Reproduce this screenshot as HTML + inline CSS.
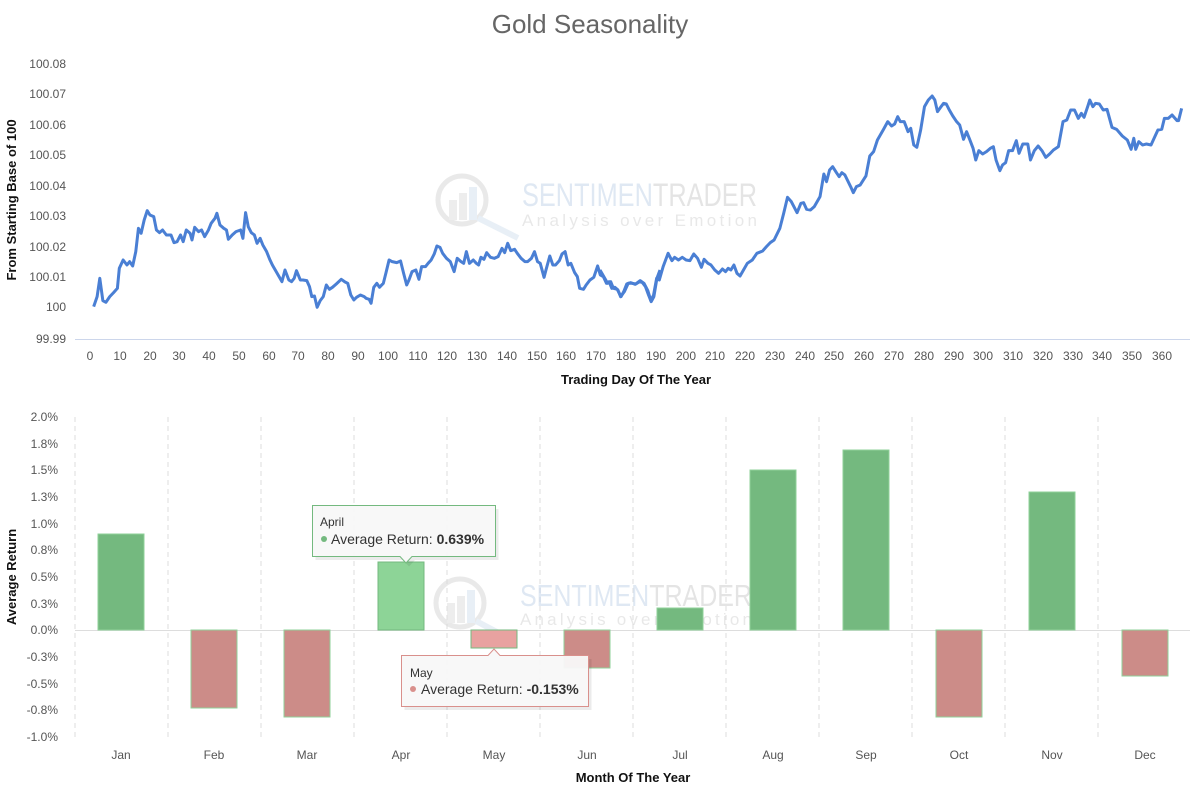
<!DOCTYPE html>
<html><head><meta charset="utf-8"><style>
html,body{margin:0;padding:0;background:#fff;}
svg{display:block;font-family:"Liberation Sans",sans-serif;}
</style></head><body>
<svg width="1200" height="789" viewBox="0 0 1200 789" xmlns="http://www.w3.org/2000/svg">
<rect width="1200" height="789" fill="#fff"/>
<text x="590" y="33" text-anchor="middle" font-size="26" fill="#666">Gold Seasonality</text>

<!-- TOP CHART -->
<g font-size="12" fill="#555" text-anchor="end">
<text x="66" y="68">100.08</text><text x="66" y="98">100.07</text><text x="66" y="129">100.06</text>
<text x="66" y="159">100.05</text><text x="66" y="190">100.04</text><text x="66" y="220">100.03</text>
<text x="66" y="251">100.02</text><text x="66" y="281">100.01</text><text x="66" y="311">100</text>
<text x="66" y="343">99.99</text>
</g>
<text transform="translate(16,200) rotate(-90)" text-anchor="middle" font-size="13" font-weight="bold" fill="#111">From Starting Base of 100</text>
<line x1="75" y1="339.5" x2="1190" y2="339.5" stroke="#ccd6eb" stroke-width="1"/>
<g font-size="12" fill="#555" text-anchor="middle">
<text x="90" y="360">0</text><text x="120" y="360">10</text><text x="150" y="360">20</text><text x="179" y="360">30</text>
<text x="209" y="360">40</text><text x="239" y="360">50</text><text x="269" y="360">60</text><text x="298" y="360">70</text>
<text x="328" y="360">80</text><text x="358" y="360">90</text><text x="388" y="360">100</text><text x="418" y="360">110</text>
<text x="447" y="360">120</text><text x="477" y="360">130</text><text x="507" y="360">140</text><text x="537" y="360">150</text>
<text x="566" y="360">160</text><text x="596" y="360">170</text><text x="626" y="360">180</text><text x="656" y="360">190</text>
<text x="686" y="360">200</text><text x="715" y="360">210</text><text x="745" y="360">220</text><text x="775" y="360">230</text>
<text x="805" y="360">240</text><text x="834" y="360">250</text><text x="864" y="360">260</text><text x="894" y="360">270</text>
<text x="924" y="360">280</text><text x="954" y="360">290</text><text x="983" y="360">300</text><text x="1013" y="360">310</text>
<text x="1043" y="360">320</text><text x="1073" y="360">330</text><text x="1102" y="360">340</text><text x="1132" y="360">350</text>
<text x="1162" y="360">360</text>
</g>
<text x="636" y="384" text-anchor="middle" font-size="13" font-weight="bold" fill="#111">Trading Day Of The Year</text>

<!-- watermark top -->
<g opacity="0.55">
<circle cx="462" cy="200" r="24" fill="none" stroke="#d8d8d8" stroke-width="5"/>
<rect x="449" y="200" width="8" height="20" fill="#e0e0e0"/><rect x="459" y="193" width="8" height="27" fill="#e0e0e0"/><rect x="469" y="187" width="8" height="33" fill="#d6e2ef"/>
<line x1="478" y1="218" x2="518" y2="238" stroke="#d6e2ef" stroke-width="6"/>
<text x="522" y="206" font-size="32" fill="#c5d6ea" textLength="235" lengthAdjust="spacingAndGlyphs">SENTIMEN<tspan fill="#cfcfcf">TRADER</tspan></text>
<text x="522" y="226" font-size="17" fill="#d6d6d6" textLength="235" lengthAdjust="spacing">Analysis over Emotion</text>
</g>

<polyline fill="none" stroke="#4a7fd4" stroke-width="3" stroke-linejoin="round" vector-effect="non-scaling-stroke" transform="translate(60,50) scale(0.38265,0.3333)"
points="88,770 97,740 104,685 112,752 120,757 130,740 140,728 150,715 155,655 165,630 175,645 182,635 190,648 198,605 205,535 212,550 220,510 228,482 235,495 245,500 252,540 260,548 268,540 278,555 290,555 298,578 306,575 315,555 322,575 330,540 340,550 345,570 352,532 362,545 370,540 378,560 388,540 395,520 405,505 410,490 418,525 428,535 435,540 440,568 450,555 460,545 472,540 478,565 485,488 492,530 500,548 508,555 515,580 523,565 530,585 540,605 548,628 555,645 565,665 580,695 588,660 598,690 605,695 612,685 618,662 628,690 635,690 645,692 652,710 658,740 665,738 672,772 680,752 688,740 696,705 704,718 712,712 722,702 735,688 745,696 752,700 760,735 768,750 775,742 785,735 795,740 800,745 808,748 813,760 820,712 828,700 835,712 845,700 852,668 860,630 868,635 880,638 890,633 898,670 906,705 912,690 920,665 930,660 938,688 945,650 955,650 962,640 970,630 978,612 985,588 993,592 1000,610 1010,625 1020,635 1030,665 1038,625 1048,635 1055,640 1062,605 1070,640 1080,630 1088,640 1094,645 1100,622 1108,628 1115,608 1125,622 1135,625 1145,620 1155,595 1162,608 1170,580 1178,602 1188,598 1195,610 1205,625 1215,635 1222,635 1232,625 1240,605 1248,635 1255,640 1265,682 1270,660 1280,618 1288,645 1295,645 1305,632 1312,612 1320,605 1328,645 1335,640 1345,668 1352,680 1358,715 1368,718 1375,705 1385,690 1395,682 1405,648 1412,675 1420,680 1428,700 1435,695 1442,715 1450,712 1458,720 1465,740 1475,725 1485,700 1495,700 1505,702 1515,695 1522,698 1530,710 1538,735 1545,755 1552,740 1560,685 1568,660"/>
<polyline fill="none" stroke="#4a7fd4" stroke-width="3" stroke-linejoin="round" vector-effect="non-scaling-stroke" transform="translate(600,50) scale(0.38265,0.3333)"
points="0,660 10,680 20,700 28,695 35,715 45,718 55,740 62,725 70,702 80,698 92,703 105,692 115,700 125,722 133,752 140,735 148,685 155,690 165,650 178,610 188,632 195,622 205,630 215,622 225,630 235,632 245,612 255,625 265,652 272,628 282,640 290,645 300,660 310,670 320,657 328,665 335,655 342,660 350,645 358,670 366,678 375,660 385,640 398,630 410,610 425,603 435,590 445,578 455,570 470,535 480,490 490,442 500,455 515,488 525,460 532,458 540,478 550,480 560,470 575,440 585,372 592,395 600,360 608,350 618,368 625,380 632,368 640,375 655,410 662,428 670,410 680,405 695,378 705,318 715,305 725,270 740,240 752,215 762,228 770,222 778,200 785,215 795,215 805,245 812,235 820,285 828,292 838,240 848,170 858,150 868,138 875,150 882,185 890,172 898,160 905,162 912,178 922,198 932,215 940,225 950,268 958,245 966,268 975,295 982,330 990,302 1000,312 1010,305 1020,295 1028,290 1035,330 1045,362 1052,345 1060,338 1068,302 1078,302 1088,272 1095,310 1105,282 1118,282 1125,330 1135,302 1145,288 1155,302 1165,322 1175,312 1185,300 1198,290 1210,215 1220,210 1230,180 1240,180 1250,205 1258,190 1265,202 1275,168 1280,150 1288,170 1295,160 1305,162 1315,180 1325,178 1338,232 1350,238 1365,258 1378,270 1388,298 1395,265 1400,298 1408,275 1418,285 1428,282 1440,285 1450,260 1458,240 1468,238 1475,205 1485,205 1495,195 1508,212 1512,212 1520,175"/>

<!-- BOTTOM CHART -->
<g stroke="#ddd" stroke-width="1" stroke-dasharray="5,4">
<line x1="75" y1="417" x2="75" y2="737"/><line x1="168" y1="417" x2="168" y2="737"/><line x1="261" y1="417" x2="261" y2="737"/>
<line x1="354" y1="417" x2="354" y2="737"/><line x1="447" y1="417" x2="447" y2="737"/><line x1="540" y1="417" x2="540" y2="737"/>
<line x1="633" y1="417" x2="633" y2="737"/><line x1="726" y1="417" x2="726" y2="737"/><line x1="819" y1="417" x2="819" y2="737"/>
<line x1="912" y1="417" x2="912" y2="737"/><line x1="1005" y1="417" x2="1005" y2="737"/><line x1="1098" y1="417" x2="1098" y2="737"/>
</g>
<line x1="75" y1="630.5" x2="1190" y2="630.5" stroke="#ddd" stroke-width="1"/>
<g font-size="12" fill="#555" text-anchor="end">
<text x="58" y="421">2.0%</text><text x="58" y="448">1.8%</text><text x="58" y="474">1.5%</text><text x="58" y="501">1.3%</text>
<text x="58" y="528">1.0%</text><text x="58" y="554">0.8%</text><text x="58" y="581">0.5%</text><text x="58" y="608">0.3%</text>
<text x="58" y="634">0.0%</text><text x="58" y="661">-0.3%</text><text x="58" y="688">-0.5%</text><text x="58" y="714">-0.8%</text>
<text x="58" y="741">-1.0%</text>
</g>
<text transform="translate(16,577) rotate(-90)" text-anchor="middle" font-size="13" font-weight="bold" fill="#111">Average Return</text>

<!-- watermark bottom -->
<g opacity="0.55">
<circle cx="460" cy="603" r="24" fill="none" stroke="#d8d8d8" stroke-width="5"/>
<rect x="447" y="603" width="8" height="20" fill="#e0e0e0"/><rect x="457" y="596" width="8" height="27" fill="#e0e0e0"/><rect x="467" y="590" width="8" height="33" fill="#d6e2ef"/>
<line x1="476" y1="621" x2="512" y2="640" stroke="#d6e2ef" stroke-width="6"/>
<text x="520" y="606" font-size="31" fill="#c5d6ea" textLength="232" lengthAdjust="spacingAndGlyphs">SENTIMEN<tspan fill="#cfcfcf">TRADER</tspan></text>
<text x="520" y="625" font-size="17" fill="#d6d6d6" textLength="232" lengthAdjust="spacing">Analysis over Emotion</text>
</g>

<g stroke="#8fd19a" stroke-width="1">
<rect x="98" y="534" width="46" height="96" fill="#74b97f"/>
<rect x="191" y="630" width="46" height="78" fill="#cc8c88"/>
<rect x="284" y="630" width="46" height="87" fill="#cc8c88"/>
<rect x="378" y="562" width="46" height="68" fill="#8dd497" stroke="#74b97f"/>
<rect x="471" y="630" width="46" height="18" fill="#e8a2a0" stroke="#74b97f"/>
<rect x="564" y="630" width="46" height="38" fill="#cc8c88"/>
<rect x="657" y="608" width="46" height="22" fill="#74b97f"/>
<rect x="750" y="470" width="46" height="160" fill="#74b97f"/>
<rect x="843" y="450" width="46" height="180" fill="#74b97f"/>
<rect x="936" y="630" width="46" height="87" fill="#cc8c88"/>
<rect x="1029" y="492" width="46" height="138" fill="#74b97f"/>
<rect x="1122" y="630" width="46" height="46" fill="#cc8c88"/>
</g>

<g font-size="12" fill="#555" text-anchor="middle">
<text x="121" y="759">Jan</text><text x="214" y="759">Feb</text><text x="307" y="759">Mar</text><text x="401" y="759">Apr</text>
<text x="494" y="759">May</text><text x="587" y="759">Jun</text><text x="680" y="759">Jul</text><text x="773" y="759">Aug</text>
<text x="866" y="759">Sep</text><text x="959" y="759">Oct</text><text x="1052" y="759">Nov</text><text x="1145" y="759">Dec</text>
</g>
<text x="633" y="782" text-anchor="middle" font-size="13" font-weight="bold" fill="#111">Month Of The Year</text>

<!-- tooltips -->
<g>
<path d="M314.5,507.5 H497.5 V558.5 H414 L408,565 L402,558.5 H314.5 Z" fill="#000" opacity="0.08" transform="translate(1,1.5)"/>
<path d="M312.5,505.5 H495.5 V556.5 H412 L406,563 L400,556.5 H312.5 Z" fill="#f8f8f8" fill-opacity="0.96" stroke="#74b97f" stroke-width="1"/>
<text x="320" y="526" font-size="12" fill="#333">April</text>
<circle cx="324" cy="539" r="3" fill="#74b97f"/>
<text x="331" y="544" font-size="14" fill="#333">Average Return: <tspan font-weight="bold">0.639%</tspan></text>

<path d="M403.5,657.5 H590.5 V708.5 H403.5 Z" fill="#000" opacity="0.08" transform="translate(1,1.5)"/>
<path d="M401.5,655.5 H488 L494,649 L500,655.5 H588.5 V706.5 H401.5 Z" fill="#f8f8f8" fill-opacity="0.96" stroke="#d9908c" stroke-width="1"/>
<text x="410" y="677" font-size="12" fill="#333">May</text>
<circle cx="413" cy="689" r="3" fill="#d9908c"/>
<text x="421" y="694" font-size="14" fill="#333">Average Return: <tspan font-weight="bold">-0.153%</tspan></text>
</g>
</svg>
</body></html>
